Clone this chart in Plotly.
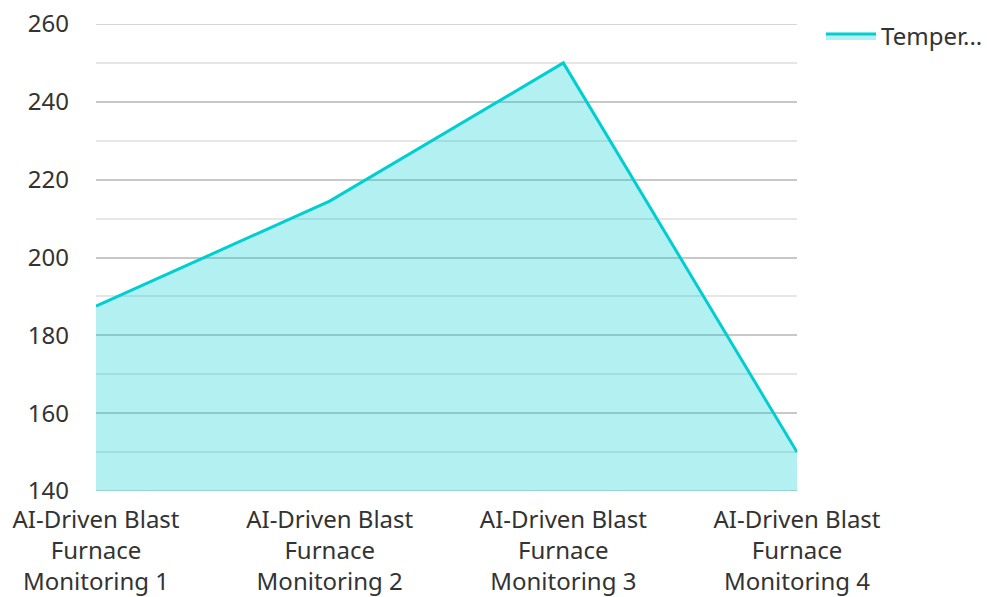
import plotly.graph_objects as go

categories = [
    "AI-Driven Blast<br>Furnace<br>Monitoring 1",
    "AI-Driven Blast<br>Furnace<br>Monitoring 2",
    "AI-Driven Blast<br>Furnace<br>Monitoring 3",
    "AI-Driven Blast<br>Furnace<br>Monitoring 4",
]
temperature = [187.5, 214.5, 250, 150]
series_name = "Temper..."
y_ticks = [140, 160, 180, 200, 220, 240, 260]
y_min, y_max = 140, 260

fig = go.Figure()
fig.add_trace(go.Scatter(
    x=categories,
    y=temperature,
    name=series_name,
    mode="lines",
    line=dict(color="#00CED1", width=3),
    fill="tozeroy",
    fillcolor="rgba(0,206,209,0.3)",
    showlegend=True,
))

# grid lines on the top and bottom edges of the plot area
for yv in (y_min, y_max):
    fig.add_shape(
        type="line", xref="paper", yref="y",
        x0=0, x1=1, y0=yv, y1=yv,
        line=dict(color="#c8c8c8", width=1.5),
        layer="below",
    )

fig.update_layout(
    width=987,
    height=597,
    margin=dict(l=96, r=190, t=24, b=106),
    paper_bgcolor="white",
    plot_bgcolor="white",
    font=dict(family="Noto Sans", size=24, color="#333333"),
    showlegend=True,
    legend=dict(
        xref="container", yref="container",
        x=821 / 987, y=1 - 14 / 597, xanchor="left", yanchor="top",
        font=dict(size=24, color="#333333"),
        bgcolor="rgba(0,0,0,0)",
        itemwidth=50,
    ),
    xaxis=dict(
        type="category",
        range=[0, 3],
        showgrid=False,
        zeroline=False,
        showline=False,
        ticks="",
        automargin=False,
        ticklabelstandoff=12,
        tickfont=dict(size=24, color="#333333"),
    ),
    yaxis=dict(
        range=[y_min, y_max],
        tickvals=y_ticks,
        showgrid=True,
        gridcolor="#c8c8c8",
        gridwidth=1.5,
        zeroline=False,
        showline=False,
        ticks="",
        automargin=False,
        ticklabelstandoff=26,
        tickfont=dict(size=24, color="#333333"),
        minor=dict(dtick=10, showgrid=True, gridcolor="#e6e6e6", gridwidth=1.5),
    ),
)

fig.write_html("out.html")
